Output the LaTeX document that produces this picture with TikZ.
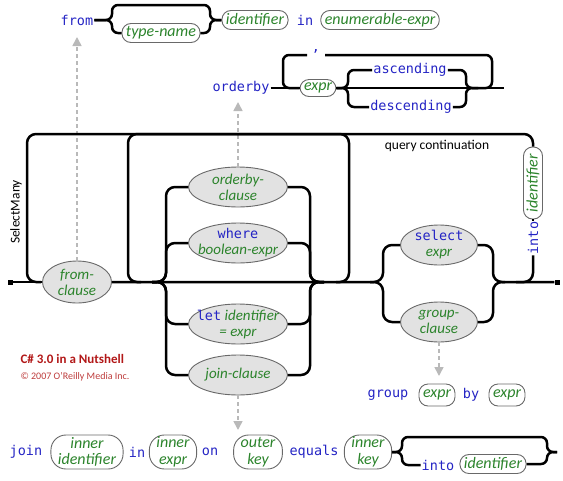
\documentclass[tikz,border=0pt]{standalone}
\usepackage{fontspec}
\setmainfont{Carlito}
\setmonofont{DejaVu Sans Mono}
\usetikzlibrary{shapes.geometric,arrows.meta}

\definecolor{kwblue}{RGB}{36,36,196}
\definecolor{ntgreen}{RGB}{44,132,44}
\definecolor{ellfill}{RGB}{226,226,226}
\definecolor{ellline}{RGB}{105,105,105}
\definecolor{hintgray}{RGB}{185,185,185}
\definecolor{nutred}{RGB}{178,24,24}

\newcommand\kwd[1]{{\ttfamily\upshape\fontsize{13.5}{16}\selectfont\color{kwblue}#1}}

\begin{document}
\begin{tikzpicture}[x=1pt,y=-1pt,
    rail/.style={line width=2.5pt,rounded corners=9pt},
    brace/.style={line width=2.5pt,rounded corners=6pt},
    clause/.style={ellipse,draw=ellline,fill=ellfill,line width=0.9pt,
      inner xsep=-10pt,inner ysep=-2pt,align=center,
      minimum width=99pt,minimum height=40pt,
      font=\itshape\fontsize{15}{16}\selectfont,text=ntgreen},
    term/.style={draw=ellline,line width=0.9pt,rounded corners=9pt,
      minimum height=19pt,inner xsep=4pt,inner ysep=1pt,
      font=\itshape\fontsize{16}{16.5}\selectfont,text=ntgreen},
    tterm/.style={term,rounded corners=15pt,inner xsep=7pt,align=center,minimum height=34pt},
    kw/.style={font=\ttfamily\fontsize{13.5}{16}\selectfont,text=kwblue,inner sep=1pt},
    note/.style={font=\fontsize{13.5}{16}\selectfont},
    hint/.style={draw=hintgray,line width=1.6pt,dash pattern=on 4pt off 3pt,
      -{Triangle[width=9pt,length=9pt]}},
    stopbox/.style={fill=black,minimum size=5pt,inner sep=0pt}]
    \useasboundingbox (0,0) rectangle (563,480);

    % from row
    \node[kw] (from) at (77,20) {from};
    \node[term] (tname) at (161,33) {type-name};
    \node[term] (fid) at (255,20) {identifier};
    \node[kw] (fin) at (305,20) {in};
    \node[term] (enum) at (380,20) {enumerable-expr};
    \draw[brace] (from.east) -- (112,20) |- (210,5) |- (fid.west);
    \draw[brace] (from.east) -- (112,20) |- (tname.west);
    \draw[brace] (tname.east) -| (210,20) -- (fid.west);

    % orderby row
    \node[kw] (ordby) at (241,88) {orderby};
    \node[term,minimum height=17pt] (oexpr) at (318,88) {expr};
    \node[kw] (asc) at (410,70) {ascending};
    \node[kw] (desc) at (411,107) {descending};
    \node[kw] (comma) at (316,51) {,};
    \coordinate (oend) at (504,88);
    \draw[brace] (ordby.east) -- (oexpr.west);
    \draw[brace] (oexpr.east) -- (oend);
    \draw[brace] (oexpr.east) -- (348,88) |- (asc.west);
    \draw[brace] (oexpr.east) -- (348,88) |- (desc.west);
    \draw[brace] (asc.east) -| (466,88) -- (478,88);
    \draw[brace] (desc.east) -| (466,88) -- (478,88);
    \draw[brace] (478,88) -| (492,55) -- (325,55);
    \draw[brace] (307,55) -| (283,88) -- (oexpr.west);

    % main diagram
    \node[stopbox] (start) at (10,282) {};
    \node[stopbox] (end) at (557,282) {};
    \node[clause,minimum width=69pt,minimum height=42pt] (fromc) at (77,282) {from-\\clause};
    \node[clause] (ob) at (238,187) {orderby-\\clause};
    \node[clause] (wh) at (238,243) {\kwd{where}\\boolean-expr};
    \node[clause] (lt) at (238,324) {\kwd{let} identifier\\= expr};
    \node[clause] (jn) at (238,375) {join-clause};
    \node[clause,minimum width=77pt] (sel) at (439,245) {\kwd{select}\\expr};
    \node[clause,minimum width=77pt] (grp) at (439,322) {group-\\clause};
    \node[kw,rotate=90] (into) at (533,238) {into};
    \node[term,rotate=90,minimum width=72pt] (qid) at (533,183) {identifier};
    \node[note,rotate=90] (smany) at (16,212) {SelectMany};
    \node[note] (qcont) at (437,146) {query continuation};
    \coordinate (bl) at (166,282);
    \coordinate (br) at (310,282);
    \coordinate (sl) at (383,282);
    \coordinate (sr) at (493,282);

    \coordinate (fromtip) at (77,37);
    \coordinate (obtip) at (238,102);
    \coordinate (grptip) at (439,376);
    \coordinate (jntip) at (238,430);
    \draw[hint] (fromc.north) -- (fromtip);
    \draw[hint] (ob.north) -- (obtip);
    \draw[hint] (grp.south) -- (grptip);
    \draw[hint] (jn.south) -- (jntip);

    \draw[rail] (start) -- (fromc.west);
    \draw[rail] (fromc.east) -- (sl) |- (sel.west);
    \draw[rail] (370,282) -- (sl) |- (grp.west);
    \draw[rail] (sel.east) -| (sr) -- (end);
    \draw[rail] (grp.east) -| (sr) -- (505,282);
    \foreach \c in {ob,wh,lt,jn}{
        \draw[rail] (152,282) -- (bl) |- (\c.west);
        \draw[rail] (\c.east) -| (br) -- (324,282);
    }
    \draw[rail] (336,282) -| (349,134) -| (128,282) -- (141,282);
    \draw[rail] (516,282) -| (into.west);
    \draw[rail] (into.east) -- (qid.west);
    \draw[rail] (qid.east) |- (27,134) |- (41,282);

    % group row
    \node[kw] (gkw) at (388,395) {group};
    \node[term,minimum height=22pt] (gexpr) at (437,395) {expr};
    \node[kw] (gby) at (471,395) {by};
    \node[term,minimum height=22pt] (gexpr2) at (507,395) {expr};

    % join row
    \node[kw] (jkw) at (26,452) {join};
    \node[tterm] (iid) at (87,452) {inner\\identifier};
    \node[kw] (jin) at (137,452) {in};
    \node[tterm] (iexpr) at (173,452) {inner\\expr};
    \node[kw] (jon) at (210,452) {on};
    \node[tterm] (okey) at (258,452) {outer\\key};
    \node[kw] (jeq) at (314,452) {equals};
    \node[tterm] (ikey) at (368,452) {inner\\key};
    \node[kw] (jinto) at (438,465) {into};
    \node[term] (jid) at (493,464) {identifier};
    \coordinate (jend) at (557,452);
    \draw[brace] (ikey.east) -- (402,452) |- (547,437) |- (jend);
    \draw[brace] (ikey.east) -- (402,452) |- (jinto.west);
    \draw[brace] (jid.east) -| (547,452) -- (jend);

    % credit
    \node[font=\bfseries\fontsize{13}{15}\selectfont,text=nutred,anchor=west] (book) at (17,359) {C\# 3.0 in a Nutshell};
    \node[font=\fontsize{10}{12}\selectfont,text=nutred!85,anchor=west] (copy) at (17,377) {© 2007 O'Reilly Media Inc.};
\end{tikzpicture}
\end{document}
